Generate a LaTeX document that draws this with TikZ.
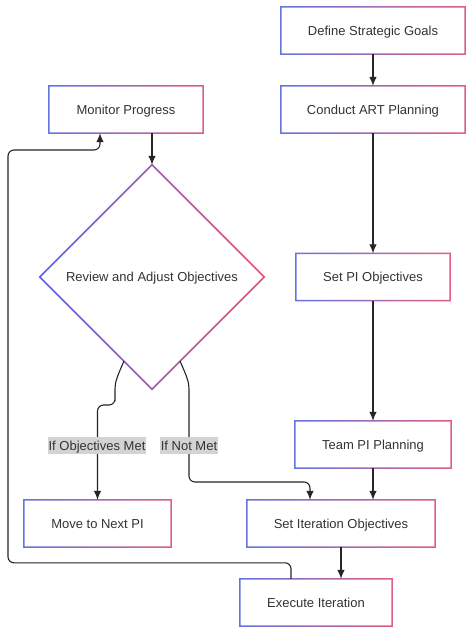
\documentclass[tikz,border=0pt]{standalone}
\usepackage{fontspec}
\setmainfont{Liberation Sans}
\usetikzlibrary{arrows.meta,shapes.geometric,calc}
\definecolor{cb}{HTML}{6475E2}
\definecolor{cp}{HTML}{E05E86}
\definecolor{txt}{HTML}{333333}
\definecolor{lbl}{HTML}{D3D3D3}
\begin{document}
\begin{tikzpicture}[x=1pt,y=-1pt,
  box/.style={rectangle, inner sep=0pt, minimum height=47pt, text=txt, text height=11.8pt, text depth=2.8pt, font=\fontsize{13}{15}\selectfont},
  dec/.style={diamond, inner sep=0pt, minimum width=224pt, minimum height=224pt, text=txt, text height=11.8pt, text depth=2.8pt, font=\fontsize{13}{15}\selectfont},
  tip/.tip={Latex[length=9pt,width=7.5pt]},
  arr/.style={draw=black!85, line width=1.1pt, -tip},
  elabel/.style={fill=lbl, text=txt, inner xsep=0.5pt, inner ysep=1.5pt, text height=11.8pt, text depth=2.8pt, font=\fontsize{13}{15}\selectfont}]
\useasboundingbox (0,0) rectangle (474,635);
\fill[white] (0,0) rectangle (474,635);

\node[box, minimum width=184pt] (def) at (373,30.5) {Define Strategic Goals};
\node[box, minimum width=184pt] (art) at (373,109.5) {Conduct ART Planning};
\node[box, minimum width=154pt] (mon) at (126,109.5) {Monitor Progress};
\node[dec] (dia) at (152,277) {Review and Adjust Objectives};
\node[box, minimum width=154pt] (pio) at (373,277) {Set PI Objectives};
\node[box, minimum width=156pt] (team) at (373,444.5) {Team PI Planning};
\node[box, minimum width=147pt] (mnp) at (97.5,523.5) {Move to Next PI};
\node[box, minimum width=188pt] (sio) at (341,523.5) {Set Iteration Objectives};
\node[box, minimum width=152pt] (exe) at (316,602.5) {Execute Iteration};

\foreach \n in {def,art,mon,pio,team,mnp,sio,exe} {
  \shade[left color=cb, right color=cp, even odd rule]
    ($(\n.south west)+(-0.75pt,-0.75pt)$) rectangle ($(\n.north east)+(0.75pt,0.75pt)$)
    ($(\n.south west)+(0.75pt,0.75pt)$) rectangle ($(\n.north east)+(-0.75pt,-0.75pt)$);
}
\shade[left color=cb!85!blue, right color=cp!85!red, even odd rule]
  ($(dia.north)+(0pt,1.06pt)$) -- ($(dia.east)+(1.06pt,0pt)$) -- ($(dia.south)+(0pt,-1.06pt)$) -- ($(dia.west)+(-1.06pt,0pt)$) -- cycle
  ($(dia.north)+(0pt,-1.06pt)$) -- ($(dia.east)+(-1.06pt,0pt)$) -- ($(dia.south)+(0pt,1.06pt)$) -- ($(dia.west)+(1.06pt,0pt)$) -- cycle;

\coordinate (dl) at ($(dia.south)!0.25!(dia.west)$);
\coordinate (dr) at ($(dia.south)!0.25!(dia.east)$);

\draw[arr] (def) -- (art);
\draw[arr] (art) -- (pio);
\draw[arr] (pio) -- (team);
\draw[arr] (team) -- (team |- sio.north);
\draw[arr] (mon.south -| dia.north) -- (dia.north);
\draw[arr] (sio.south) -- (sio.south |- exe.north);
\draw[arr, rounded corners=6pt] ([xshift=-25pt]exe.north) -- ++(0,-16) -| (8,150) -| ([xshift=-26pt]mon.south);

\draw[arr, rounded corners=6pt] (dl) .. controls ($(dl)+(-7,16)$) and (115,382) .. (115,395) -- (115,405) -| (mnp.north);
\draw[arr, rounded corners=6pt] (dr) .. controls ($(dr)+(7,16)$) and (189,382) .. (189,395) -- (189,482) -| ([xshift=-31pt]sio.north);

\node[elabel] (l1) at (97,445.5) {If Objectives Met};
\node[elabel] (l2) at (189,445.5) {If Not Met};
\end{tikzpicture}
\end{document}
